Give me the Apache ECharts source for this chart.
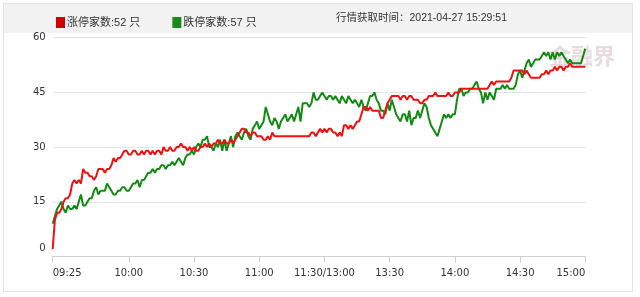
<!DOCTYPE html>
<html>
<head>
<meta charset="utf-8">
<script src="https://cdn.jsdelivr.net/npm/echarts@6/dist/echarts.min.js"></script>
<style>
html,body{margin:0;padding:0;background:#fff;}
#chart{width:640px;height:297px;}
</style>
</head>
<body>
<div id="chart"></div>
<script>
// Series names
var seriesNames = ['涨停家数', '跌停家数'];
// Axis tick labels (shown times)
var tickTimes = ['09:25', '10:00', '10:30', '11:00', '11:30', '13:30', '14:00', '14:30', '15:00'];
var tickLabelText = {'11:30': '11:30/13:00'};
var yTicks = [0, 15, 30, 45, 60];
var headerTime = '行情获取时间：2021-04-27 15:29:51';

// Minute categories: 09:25-11:30, 13:01-15:00
function pad(n){return (n<10?'0':'')+n;}
var categories = [];
for (var t = 9*60+25; t <= 11*60+30; t++) categories.push(pad(Math.floor(t/60))+':'+pad(t%60));
for (var t2 = 13*60+1; t2 <= 15*60; t2++) categories.push(pad(Math.floor(t2/60))+':'+pad(t2%60));

// 涨停家数 (red)
var upValues = [
 2,10,12,12,13,15,16,16,17,20,
 21,20,21,20,24,23,23,22,22,21,
 22,24,24,24,23,24,24,25,27,26,
 27,27,28,29,29,28,28,29,29,28,
 28,29,28,29,29,28,29,28,29,29,
 28,30,29,29,30,29,29,30,30,31,
 30,30,29,30,29,30,29,29,30,30,
 31,30,31,30,31,31,32,31,31,32,
 31,31,32,31,32,33,34,35,35,34,
 34,33,34,34,33,33,33,32,32,33,
 32,34,33,33,33,33,33,33,33,33,
 33,33,33,33,33,33,33,33,33,34,
 34,33,34,35,34,35,34,35,35,34,
 34,33,34,33,36,36,35,36,35,36,
 37,37,39,41,41,40,41,40,40,40,
 40,38,38,40,42,43,44,44,44,44,
 43,44,44,43,44,44,43,43,43,42,
 42,43,43,44,44,44,45,44,44,44,
 44,44,45,44,44,45,45,45,46,46,
 46,46,46,46,46,46,46,46,46,46,
 46,47,48,47,48,48,48,48,48,48,
 48,49,51,51,51,51,51,50,51,50,
 49,49,49,49,49,50,50,51,50,51,
 51,52,51,52,52,51,52,52,53,52,
 52,52,52,52,52,52
];

// 跌停家数 (green)
var downValues = [
 9,11,13,14,15,13,12,14,13,13,
 14,13,15,17,14,14,15,16,16,18,
 19,17,18,18,18,20,19,18,17,17,
 18,18,19,19,18,18,19,20,20,21,
 19,21,21,22,23,23,24,23,24,24,
 25,25,24,25,25,26,25,26,27,26,
 25,27,28,28,29,28,30,31,30,32,
 32,33,30,30,29,31,30,32,29,32,
 29,31,33,30,33,34,33,32,34,35,
 33,32,35,36,37,35,36,37,41,39,
 37,36,38,37,35,37,38,39,37,38,
 39,37,39,41,37,42,42,42,41,42,
 45,43,43,44,45,44,43,44,44,43,
 44,43,42,44,43,42,44,43,42,43,
 42,41,43,41,40,42,44,44,45,43,
 42,40,40,39,42,40,43,41,39,38,
 37,39,39,37,40,36,38,38,40,38,
 40,42,41,38,36,35,34,33,35,37,
 39,38,39,38,39,39,43,46,46,44,
 45,45,46,46,47,48,46,45,42,45,
 43,45,44,43,46,46,46,47,46,47,
 46,46,46,47,50,51,49,51,53,54,
 52,53,54,54,54,55,56,55,56,54,
 56,54,56,55,56,55,54,53,54,53,
 53,53,53,53,55,57
];

var counts = {};
counts[seriesNames[0]] = upValues[upValues.length-1];
counts[seriesNames[1]] = downValues[downValues.length-1];

var tickIdx = {};
tickTimes.forEach(function(t){ tickIdx[categories.indexOf(t)] = true; });

var chart = echarts.init(document.getElementById('chart'), null, {renderer:'canvas'});
chart.setOption({
  backgroundColor: '#fff',
  animation: false,
  graphic: [
    {type:'rect', shape:{x:3.5,y:3.5,width:629,height:288}, style:{fill:'#fff', stroke:'#e3e3e3', lineWidth:1}, z:-10},
    {type:'rect', shape:{x:4,y:4,width:628,height:29}, style:{fill:'#f2f2f2'}, z:-9},
    {type:'text', left:336, top:12.5, style:{text: headerTime, fill:'#333', font:'10.5px "Liberation Sans", "Noto Sans CJK SC", sans-serif'}, z:10},
    {type:'text', left:549, top:45, style:{text:'金融界', fill:'rgba(210,190,196,0.55)', font:'bold 22px "Noto Sans CJK SC", sans-serif'}, z:-5}
  ],
  legend: {
    left: 51, top: 12,
    itemWidth: 9, itemHeight: 11, itemGap: 32,
    icon: 'rect',
    data: [
      {name: seriesNames[0], itemStyle:{color:'#cc0000'}},
      {name: seriesNames[1], itemStyle:{color:'#1a8a1a'}}
    ],
    textStyle: {fontSize: 11, color:'#333', fontFamily:'"Liberation Sans", "Noto Sans CJK SC", sans-serif', padding:[0,0,0,-3]},
    formatter: function(name){ return name + ':' + counts[name] + ' 只'; }
  },
  grid: {left: 52.7, right: 54.7, top: 37.7, bottom: 40.5, containLabel:false},
  xAxis: {
    type: 'category',
    data: categories,
    boundaryGap: false,
    axisLine: {lineStyle:{color:'#cfcfcf'}},
    axisTick: {show:true, length:6, lineStyle:{color:'#cfcfcf'}, interval: function(i){ return !!tickIdx[i]; }},
    axisLabel: {
      interval: function(i){ return !!tickIdx[i]; },
      formatter: function(v){ return tickLabelText[v] || v; },
      color:'#333', fontSize:10, fontFamily:'"DejaVu Sans", sans-serif', margin: 12,
      alignMinLabel: 'left', alignMaxLabel: 'right'
    },
    splitLine: {show:false}
  },
  yAxis: {
    type: 'value',
    min: yTicks[0], max: yTicks[yTicks.length-1], interval: 15,
    axisLine: {show:false},
    axisTick: {show:false},
    axisLabel: {
      color:'#333', fontSize:10, fontFamily:'"DejaVu Sans", sans-serif', margin: 7,
      formatter: function(v){ return v === 0 ? '{z|0}' : String(v); },
      rich: {z:{padding:[0,0,16,0], fontSize:10, color:'#333', fontFamily:'"DejaVu Sans", sans-serif'}}
    },
    splitLine: {show:true, lineStyle:{color:'#e4e4e4'}}
  },
  series: [
    {name: seriesNames[0], type:'line', data: upValues, showSymbol:false, symbol:'none',
     lineStyle:{color:'#ee1111', width:2}, itemStyle:{color:'#ee1111'}, z:3},
    {name: seriesNames[1], type:'line', data: downValues, showSymbol:false, symbol:'none',
     lineStyle:{color:'#138a13', width:2}, itemStyle:{color:'#138a13'}, z:2}
  ]
});
</script>
</body>
</html>
